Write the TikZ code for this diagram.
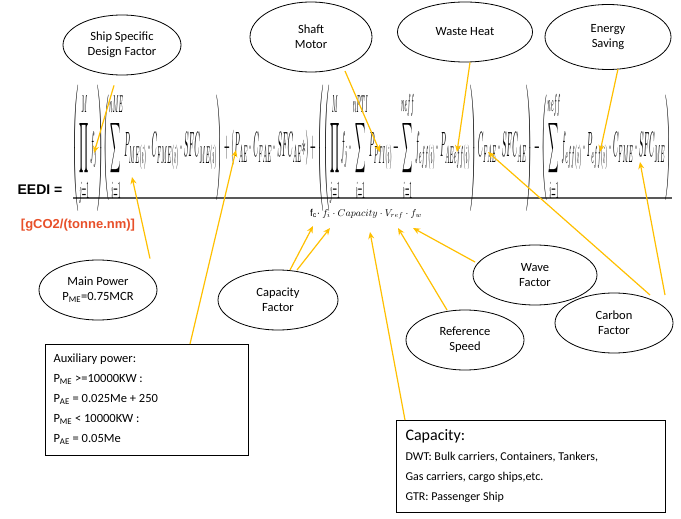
\documentclass[tikz,border=0pt]{standalone}
\usepackage{amsmath,graphicx}
\usepackage[no-math]{fontspec}
\setmainfont{Carlito}
\newfontfamily\arialf{Liberation Sans}
\usetikzlibrary{shapes.geometric,arrows.meta}
\definecolor{arr}{HTML}{FFC000}
\definecolor{unit}{HTML}{E8502A}
\begin{document}
\begin{tikzpicture}[x=1pt,y=-1pt,
  ell/.style={draw,ellipse,line width=0.8pt,minimum width=118pt,minimum height=60pt,align=center,font=\fontsize{12.5}{15}\selectfont,inner sep=0pt},
  box/.style={draw,line width=0.8pt,anchor=north west,align=left,inner sep=0pt},
  ar/.style={draw=arr,line width=1.2pt,-{Stealth[length=7pt,width=6pt]}}]
\useasboundingbox[fill=white] (0,0) rectangle (681,519);
% ellipses
\node[ell] (ssd) at (122,45) {Ship Specific\\Design Factor};
\node[ell,minimum width=122pt,minimum height=70pt] (sm) at (311,37) {Shaft\\Motor};
\node[ell,minimum width=135pt] (wh) at (465,32) {Waste Heat};
\node[ell,minimum width=126pt,minimum height=65pt] (es) at (608,37) {Energy\\Saving};
\node[ell] (mp) at (98,290) {Main Power\\P\textsubscript{ME}=0.75MCR};
\node[ell,minimum width=120pt] (cf) at (278,300) {Capacity\\Factor};
\node[ell,minimum width=124pt] (wf) at (535,275) {Wave\\Factor};
\node[ell] (rs) at (465,340) {Reference\\Speed};
\node[ell] (cb) at (614,323) {Carbon\\Factor};
% boxes
\node[box,minimum width=203pt,minimum height=111pt] (aux) at (45,344) {};
\node[anchor=north west,align=left,font=\fontsize{12.5}{20}\selectfont] at (50,350)
 {Auxiliary power:\\P\textsubscript{ME} >=10000KW :\\P\textsubscript{AE} = 0.025Me + 250\\P\textsubscript{ME} < 10000KW :\\ P\textsubscript{AE} = 0.05Me};
\node[box,minimum width=269pt,minimum height=92pt] (cap) at (396,420) {};
\node[anchor=north west,align=left,font=\fontsize{12}{20}\selectfont] at (402,426)
 {{\fontsize{16}{20}\selectfont Capacity:}\\DWT: Bulk carriers, Containers, Tankers,\\Gas carriers, cargo ships,etc.\\GTR: Passenger Ship};
% formula
\node[font=\arialf\bfseries\fontsize{14}{16}\selectfont] (eedi) at (40,190) {EEDI =};
\node[font=\arialf\bfseries\fontsize{13}{16}\selectfont,text=unit] (unitn) at (78,225) {[gCO2/(tonne.nm)]};
\draw[line width=1.2pt,gray!70!black] (73,198) -- (672,198);
\node (num) at (372,148) {\resizebox{598pt}{72pt}{$\displaystyle
\left(\prod_{j=1}^{M} f_j\right)\!\left(\sum_{i=1}^{nME} P_{ME(i)}\cdot C_{FME(i)}\cdot SFC_{ME(i)}\right)+\left(P_{AE}\cdot C_{FAE}\cdot SFC_{AE}{*}\right)+\left(\left(\prod_{j=1}^{M} f_j\cdot\sum_{i=1}^{nPTI}P_{PTI(i)}-\sum_{i=1}^{neff}f_{eff(i)}\cdot P_{AEeff(i)}\right)C_{FAE}\cdot SFC_{AE}\right)-\left(\sum_{i=1}^{neff}f_{eff(i)}\cdot P_{eff(i)}\cdot C_{FME}\cdot SFC_{ME}\right)$}};
\node (den) at (366,214) {\resizebox{112pt}{!}{{\arialf f\textsubscript{c}\textperiodcentered} $f_i\cdot Capacity\cdot V_{ref}\cdot f_w$}};
% arrows
\coordinate (t1) at (94,153); \draw[ar] (ssd.south) ++(-8,10) -- (t1);
\coordinate (t2) at (380,152); \draw[ar] (345,71) -- (t2);
\coordinate (t3) at (457,152); \draw[ar] (wh.south) ++(5,0) -- (t3);
\coordinate (t4) at (600,152); \draw[ar] (es.south) ++(10,-1) -- (t4);
\coordinate (t5) at (132,177); \draw[ar] (mp.north) ++(52,-1) -- (t5);
\coordinate (t6) at (236,150); \draw[ar] (190,344) -- (t6);
\coordinate (t7) at (313,226); \draw[ar] (290,270) -- (t7);
\coordinate (t8) at (330,228); \draw[ar] (297,270) -- (t8);
\coordinate (t9) at (370,232); \draw[ar] (405,420) -- (t9);
\coordinate (t10) at (398,228); \draw[ar] (447,310) -- (t10);
\coordinate (t11) at (413,228); \draw[ar] (475,262) -- (t11);
\coordinate (t12) at (488,152); \draw[ar] (650,295) -- (t12);
\coordinate (t13) at (640,162); \draw[ar] (665,295) -- (t13);
\end{tikzpicture}
\end{document}
